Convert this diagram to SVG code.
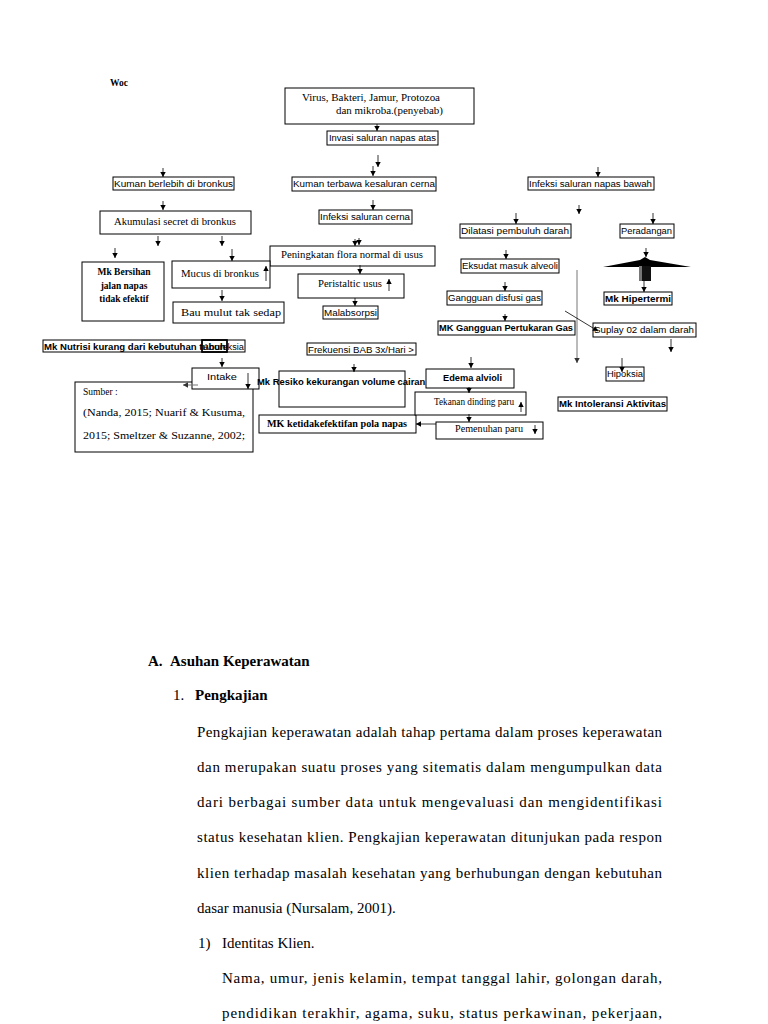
<svg xmlns="http://www.w3.org/2000/svg" width="768" height="1024" viewBox="0 0 768 1024">
<defs>
<marker id="ah" markerUnits="userSpaceOnUse" markerWidth="6" markerHeight="6" refX="5" refY="3" orient="auto"><path d="M0,0.3 L5,3 L0,5.7 z" fill="#000"/></marker>
<marker id="ahg" markerUnits="userSpaceOnUse" markerWidth="6" markerHeight="6" refX="5" refY="3" orient="auto"><path d="M0,0.3 L5,3 L0,5.7 z" fill="#333"/></marker>
</defs>
<style>
.b{fill:#fff;stroke:#000;stroke-width:1}
.s{font-family:"Liberation Sans",Arial,sans-serif;font-size:8.5px;fill:#000}
.sb{font-family:"Liberation Sans",Arial,sans-serif;font-size:8.5px;font-weight:bold;fill:#000}
.r{font-family:"Liberation Serif","Times New Roman",serif;font-size:9.5px;fill:#000}
.rb{font-family:"Liberation Serif","Times New Roman",serif;font-size:9.5px;font-weight:bold;fill:#000}
.p{font-family:"Liberation Serif","Times New Roman",serif;font-size:15px;fill:#000}
.pb{font-family:"Liberation Serif","Times New Roman",serif;font-size:15px;font-weight:bold;fill:#000}
.c{stroke:#000;stroke-width:0.8;fill:none;marker-end:url(#ah)}
.g{stroke:#777;stroke-width:1;fill:none;marker-end:url(#ahg)}
</style>
<rect width="768" height="1024" fill="#fff"/>

<text class="rb" x="110" y="86">Woc</text>

<g id="n-virus"><rect class="b" x="285" y="88" width="189" height="36"/>
<text class="r" x="302" y="101" textLength="138" lengthAdjust="spacingAndGlyphs">Virus, Bakteri, Jamur, Protozoa</text>
<text class="r" x="336" y="114" textLength="107" lengthAdjust="spacingAndGlyphs">dan mikroba.(penyebab)</text></g>

<g id="n-invasi"><rect class="b" x="327" y="131" width="111" height="14"/>
<text class="s" x="329" y="141" textLength="107" lengthAdjust="spacingAndGlyphs">Invasi saluran napas atas</text></g>

<g id="n-kuman-bronkus"><rect class="b" x="113" y="177" width="121" height="13"/>
<text class="s" x="114" y="187" textLength="119" lengthAdjust="spacingAndGlyphs">Kuman berlebih di bronkus</text></g>

<g id="n-kuman-cerna"><rect class="b" x="292" y="177" width="144" height="14"/>
<text class="s" x="293" y="187" textLength="142" lengthAdjust="spacingAndGlyphs">Kuman terbawa kesaluran cerna</text></g>

<g id="n-infeksi-bawah"><rect class="b" x="528" y="177" width="126" height="13"/>
<text class="s" x="529" y="187" textLength="123" lengthAdjust="spacingAndGlyphs">Infeksi saluran napas bawah</text></g>

<g id="n-akumulasi"><rect class="b" x="100" y="211" width="151" height="23"/>
<text class="r" x="114" y="225" textLength="122" lengthAdjust="spacingAndGlyphs">Akumulasi secret di bronkus</text></g>

<g id="n-infeksi-cerna"><rect class="b" x="319" y="210" width="93" height="14"/>
<text class="s" x="320" y="220" textLength="90" lengthAdjust="spacingAndGlyphs">Infeksi saluran cerna</text></g>

<g id="n-dilatasi"><rect class="b" x="460" y="224" width="111" height="14"/>
<text class="s" x="461" y="234" textLength="108" lengthAdjust="spacingAndGlyphs">Dilatasi pembuluh darah</text></g>

<g id="n-peradangan"><rect class="b" x="620" y="224" width="54" height="14"/>
<text class="s" x="621" y="234" textLength="51" lengthAdjust="spacingAndGlyphs">Peradangan</text></g>

<g id="n-peningkatan"><rect class="b" x="270" y="246" width="165" height="20"/>
<text class="r" x="281" y="258" textLength="142" lengthAdjust="spacingAndGlyphs">Peningkatan flora normal di usus</text></g>

<g id="n-bersihan"><rect class="b" x="82" y="262" width="82" height="59"/>
<text class="rb" x="124" y="275" text-anchor="middle">Mk Bersihan</text>
<text class="rb" x="124" y="289" text-anchor="middle">jalan napas</text>
<text class="rb" x="124" y="302" text-anchor="middle">tidak efektif</text></g>

<g id="n-mucus"><rect class="b" x="172" y="261" width="98" height="27"/>
<text class="r" x="181" y="277" textLength="78" lengthAdjust="spacingAndGlyphs">Mucus di bronkus</text></g>

<g id="n-bau"><rect class="b" x="173" y="302" width="111" height="21"/>
<text class="r" x="181" y="316" textLength="100" lengthAdjust="spacingAndGlyphs">Bau mulut tak sedap</text></g>

<g id="n-peristaltic"><rect class="b" x="298" y="274" width="106" height="24"/>
<text class="r" x="318" y="287" textLength="64" lengthAdjust="spacingAndGlyphs">Peristaltic usus</text></g>

<g id="n-malabsorpsi"><rect class="b" x="323" y="306" width="55" height="13"/>
<text class="s" x="324" y="316" textLength="53" lengthAdjust="spacingAndGlyphs">Malabsorpsi</text></g>

<g id="n-eksudat"><rect class="b" x="461" y="259" width="98" height="14"/>
<text class="s" x="462" y="269" textLength="96" lengthAdjust="spacingAndGlyphs">Eksudat masuk alveoli</text></g>

<g id="n-gangguan"><rect class="b" x="447" y="291" width="95" height="14"/>
<text class="s" x="448" y="301" textLength="93" lengthAdjust="spacingAndGlyphs">Gangguan disfusi gas</text></g>

<g id="n-mk-gangguan"><rect class="b" x="438" y="321" width="137" height="14"/>
<text class="sb" x="439" y="331" textLength="134" lengthAdjust="spacingAndGlyphs">MK Gangguan Pertukaran Gas</text></g>

<g id="n-hat">
<polygon points="603,267 640,260 645,257 650,260 691,267" fill="#000"/>
<rect x="639" y="266" width="12" height="15" fill="#111"/>
<rect x="639" y="266" width="3" height="15" fill="#777"/></g>

<g id="n-hipertermi"><rect class="b" x="604" y="292" width="68" height="13"/>
<text class="sb" x="605" y="302" textLength="66" lengthAdjust="spacingAndGlyphs">Mk Hipertermi</text></g>

<g id="n-suplay"><rect class="b" x="593" y="323" width="103" height="14"/>
<text class="s" x="594" y="333" textLength="100" lengthAdjust="spacingAndGlyphs">Suplay 02 dalam darah</text></g>

<g id="n-hipoksia"><rect class="b" x="606" y="367" width="38" height="14"/>
<text class="s" x="607" y="377" textLength="36" lengthAdjust="spacingAndGlyphs">Hipoksia</text></g>

<g id="n-intoleransi"><rect class="b" x="558" y="397" width="109" height="14"/>
<text class="sb" x="559" y="407" textLength="107" lengthAdjust="spacingAndGlyphs">Mk Intoleransi Aktivitas</text></g>

<g id="n-nutrisi"><rect class="b" x="43" y="340" width="184" height="12"/>
<text class="sb" x="44" y="349.5" textLength="182" lengthAdjust="spacingAndGlyphs">Mk Nutrisi kurang dari kebutuhan tubuh</text></g>

<g id="n-anoreksia"><rect x="202" y="340" width="43" height="12" fill="none" stroke="#000" stroke-width="1"/>
<rect x="202" y="340" width="25" height="12" fill="none" stroke="#000" stroke-width="1.6"/>
<text class="s" x="203" y="349.5" textLength="41" lengthAdjust="spacingAndGlyphs">Anoreksia</text></g>

<g id="n-sumber"><rect class="b" x="75" y="382" width="178" height="70"/>
<text class="r" x="83" y="395">Sumber :</text>
<text class="r" x="83" y="416" textLength="162" lengthAdjust="spacingAndGlyphs">(Nanda, 2015;  Nuarif &amp; Kusuma,</text>
<text class="r" x="83" y="439" textLength="162" lengthAdjust="spacingAndGlyphs">2015; Smeltzer &amp; Suzanne, 2002;</text></g>

<g id="n-intake"><rect class="b" x="192" y="368" width="67" height="21"/>
<text class="s" x="207" y="380" textLength="30" lengthAdjust="spacingAndGlyphs">Intake</text></g>

<g id="n-frekuensi"><rect class="b" x="307" y="343" width="109" height="12"/>
<text class="s" x="308" y="352.5" textLength="106" lengthAdjust="spacingAndGlyphs">Frekuensi BAB 3x/Hari &gt;</text></g>

<g id="n-resiko"><rect class="b" x="279" y="371" width="126" height="36"/>
<text class="sb" x="257" y="385" textLength="171" lengthAdjust="spacingAndGlyphs">Mk Resiko kekurangan volume cairan.</text></g>

<g id="n-ketidak"><rect class="b" x="259" y="415" width="157" height="18"/>
<text class="rb" x="267" y="427" textLength="140" lengthAdjust="spacingAndGlyphs">MK ketidakefektifan pola napas</text></g>

<g id="n-edema"><rect class="b" x="426" y="369" width="88" height="19"/>
<text class="s" x="443" y="381" textLength="59" lengthAdjust="spacingAndGlyphs" style="font-weight:600">Edema alvioli</text></g>

<g id="n-tekanan"><rect class="b" x="415" y="392" width="111" height="23"/>
<text class="r" x="434" y="405" textLength="80" lengthAdjust="spacingAndGlyphs">Tekanan dinding paru</text></g>

<g id="n-pemenuhan"><rect class="b" x="436" y="422" width="107" height="17"/>
<text class="r" x="455" y="432" textLength="68" lengthAdjust="spacingAndGlyphs">Pemenuhan paru</text></g>

<g id="connectors">
<line class="c" x1="377" y1="124" x2="377" y2="131"/>
<line class="c" x1="378" y1="155" x2="378" y2="167" stroke="#777"/>
<line class="c" x1="373" y1="166" x2="373" y2="176"/>
<line class="c" x1="163" y1="168" x2="163" y2="177"/>
<line class="c" x1="598" y1="167" x2="598" y2="177"/>
<line class="c" x1="163" y1="201" x2="163" y2="210"/>
<line class="c" x1="373" y1="200" x2="373" y2="210"/>
<line class="c" x1="579" y1="205" x2="579" y2="214"/>
<line class="c" x1="516" y1="213" x2="516" y2="224"/>
<line class="c" x1="653" y1="213" x2="653" y2="224"/>
<line class="c" x1="158" y1="236" x2="158" y2="246"/>
<line class="c" x1="222" y1="236" x2="222" y2="246"/>
<line class="c" x1="115" y1="248" x2="115" y2="258"/>
<line class="c" x1="232" y1="249" x2="232" y2="261"/>
<line class="c" x1="355" y1="239" x2="355" y2="246"/>
<line class="c" x1="359" y1="238" x2="359" y2="245"/>
<line class="c" x1="266" y1="281" x2="266" y2="266"/>
<line class="c" x1="222" y1="290" x2="222" y2="301"/>
<line class="c" x1="360" y1="265" x2="360" y2="274"/>
<line class="c" x1="389" y1="291" x2="389" y2="279"/>
<line class="c" x1="355" y1="298" x2="355" y2="306"/>
<line class="c" x1="506" y1="250" x2="506" y2="259"/>
<line class="c" x1="505" y1="282" x2="505" y2="291"/>
<line class="c" x1="505" y1="314" x2="505" y2="321"/>
<line class="c" x1="646" y1="248" x2="646" y2="257"/>
<line class="c" x1="644" y1="281" x2="644" y2="292"/>
<line class="g" x1="577" y1="270" x2="577" y2="363"/>
<line class="c" x1="565" y1="311" x2="598" y2="331" stroke="#555"/>
<line class="c" x1="671" y1="339" x2="671" y2="352"/>
<line class="c" x1="622" y1="358" x2="622" y2="372" stroke="#777"/>
<line class="c" x1="222" y1="358" x2="222" y2="367"/>
<line class="g" x1="198" y1="385" x2="183" y2="385"/>
<line class="c" x1="248" y1="373" x2="248" y2="389"/>
<line class="c" x1="354" y1="364" x2="354" y2="372"/>
<line class="c" x1="471" y1="357" x2="471" y2="368"/>
<line class="c" x1="469" y1="387" x2="469" y2="393"/>
<line class="c" x1="521" y1="412" x2="521" y2="402"/>
<line class="c" x1="469" y1="414" x2="469" y2="422"/>
<line class="c" x1="535" y1="425" x2="535" y2="434"/>
<line class="c" x1="436" y1="424" x2="416" y2="424" stroke="#555"/>
</g>

<g id="text-body">
<text class="pb" x="148" y="666">A.</text>
<text class="pb" x="170" y="666">Asuhan Keperawatan</text>
<text class="p" x="173" y="700">1.</text>
<text class="pb" x="195" y="700">Pengkajian</text>
<text class="p" x="197" y="737" textLength="465" lengthAdjust="spacing">Pengkajian keperawatan adalah tahap pertama dalam proses keperawatan</text>
<text class="p" x="197" y="772" textLength="465" lengthAdjust="spacing">dan merupakan suatu proses yang sitematis dalam mengumpulkan data</text>
<text class="p" x="197" y="807" textLength="465" lengthAdjust="spacing">dari berbagai sumber data untuk mengevaluasi dan mengidentifikasi</text>
<text class="p" x="197" y="842" textLength="465" lengthAdjust="spacing">status kesehatan klien. Pengkajian keperawatan ditunjukan pada respon</text>
<text class="p" x="197" y="878" textLength="465" lengthAdjust="spacing">klien terhadap masalah kesehatan yang berhubungan dengan kebutuhan</text>
<text class="p" x="197" y="913">dasar manusia (Nursalam, 2001).</text>
<text class="p" x="198" y="948">1)</text>
<text class="p" x="222" y="948">Identitas Klien.</text>
<text class="p" x="222" y="983" textLength="440" lengthAdjust="spacing">Nama, umur, jenis kelamin, tempat tanggal lahir, golongan darah,</text>
<text class="p" x="222" y="1018" textLength="440" lengthAdjust="spacing">pendidikan terakhir, agama, suku, status perkawinan, pekerjaan,</text>
</g>
</svg>
